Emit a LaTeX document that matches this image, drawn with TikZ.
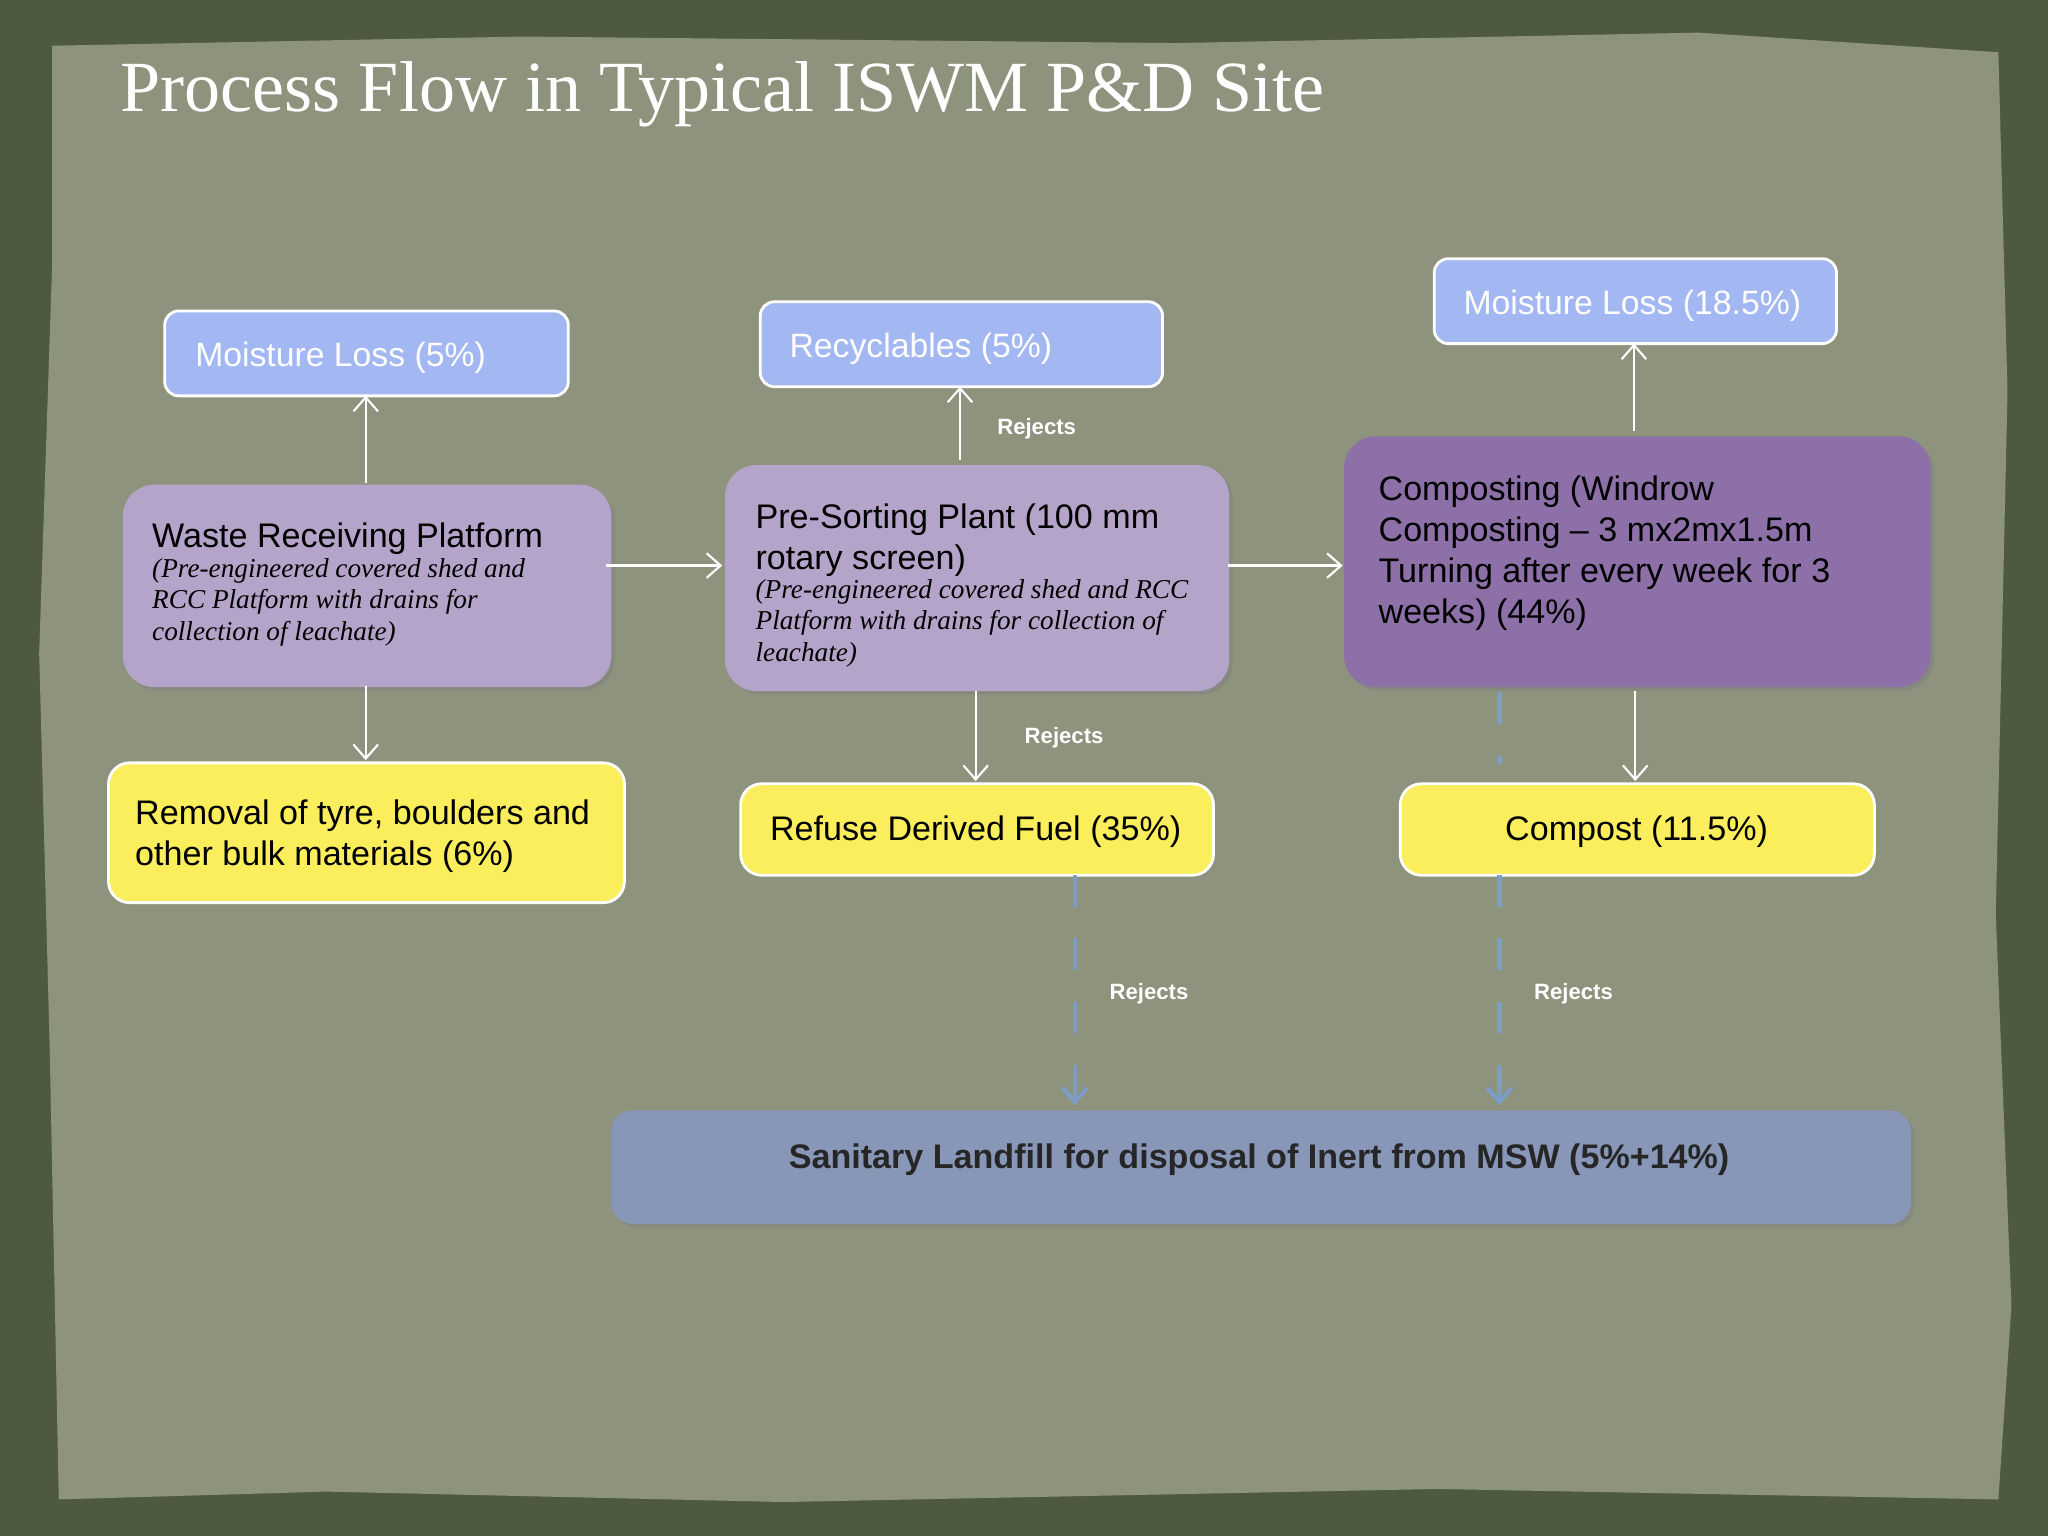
\documentclass[tikz,border=0pt]{standalone}
\usepackage{fontspec}
\setmainfont{Liberation Sans}
\newfontfamily\serifit{Liberation Serif}
\usetikzlibrary{arrows.meta,shadows}
\definecolor{bgdark}{HTML}{4E5A3F}
\definecolor{paper}{HTML}{8E937D}
\definecolor{lblue}{HTML}{A3B7F2}
\definecolor{lav}{HTML}{B5A4C9}
\definecolor{purp}{HTML}{8D70A8}
\definecolor{yel}{HTML}{FBEE5C}
\definecolor{lgray}{HTML}{8896B8}
\definecolor{dash}{HTML}{7E9CC8}
\begin{document}
\begin{tikzpicture}[x=0.01306cm,y=-0.01306cm,
 box/.style={draw=white,line width=0.8pt,rounded corners=4pt,inner sep=0pt,anchor=north west},
 blu/.style={box,fill=lblue},
 proc/.style={box,draw=none,rounded corners=9pt,drop shadow={opacity=0.5,shadow xshift=1pt,shadow yshift=-1pt}},
 ybox/.style={box,fill=yel,rounded corners=6pt},
 txt/.style={anchor=north west,align=left,inner sep=0pt,font=\fontsize{9.7}{11.6}\selectfont},
 itx/.style={anchor=north west,align=left,inner sep=0pt,font=\serifit\itshape\fontsize{7.75}{9}\selectfont},
 wtx/.style={text=white,anchor=west,font=\fontsize{9.6}{11}\selectfont},
 arr/.style={draw=white,line width=0.6pt,-{Straight Barb[length=4pt,width=7pt]}},
 darr/.style={draw=dash,line width=1.2pt,dash pattern=on 9pt off 9pt,-{Straight Barb[length=4pt,width=7pt]}},
 lab/.style={text=white,font=\bfseries\fontsize{6.3}{7}\selectfont,anchor=west,inner sep=0pt}]
\useasboundingbox (0,0) rectangle (1568,1176);
\fill[bgdark] (0,0) rectangle (1568,1176);
\fill[paper] (40,35) -- (400,28) -- (900,33) -- (1300,25) -- (1530,40) -- (1537,300) -- (1528,700) -- (1540,1000) -- (1530,1148) -- (1100,1140) -- (600,1150) -- (250,1142) -- (45,1148) -- (38,800) -- (30,500) -- (40,200) -- cycle;
\node[anchor=west,text=white,font=\serifit\fontsize{20.5}{22}\selectfont,inner sep=0pt] (title) at (92,72) {Process Flow in Typical ISWM P\&D Site};

\node[blu,minimum width=309*0.01306cm,minimum height=65*0.01306cm] (ml1) at (125,237) {};
\node[wtx] (ml1t) at (140,274) {Moisture Loss (5\%)};
\node[blu,minimum width=308*0.01306cm,minimum height=65*0.01306cm] (rec) at (581,230) {};
\node[wtx] (rect) at (595,267) {Recyclables (5\%)};
\node[blu,minimum width=308*0.01306cm,minimum height=65*0.01306cm] (ml2) at (1097,197) {};
\node[wtx] (ml2t) at (1111,234) {Moisture Loss (18.5\%)};

\node[proc,fill=lav,minimum width=374*0.01306cm,minimum height=155*0.01306cm] (wrp) at (93,370) {};
\node[txt] (wrpt) at (116,400) {Waste Receiving Platform};
\node[itx] (wrpi) at (116,427) {(Pre-engineered covered shed and\\ RCC Platform with drains for\\ collection of leachate)};
\node[proc,fill=lav,minimum width=386*0.01306cm,minimum height=173*0.01306cm] (psp) at (554,355) {};
\node[txt] (pspt) at (578,385) {Pre-Sorting Plant (100 mm\\ rotary screen)};
\node[itx] (pspi) at (578,443) {(Pre-engineered covered shed and RCC\\ Platform with drains for collection of\\ leachate)};
\node[proc,fill=purp,minimum width=449*0.01306cm,minimum height=192*0.01306cm] (cmp) at (1028,333) {};
\node[txt] (cmpt) at (1055,364) {Composting (Windrow\\ Composting -- 3 mx2mx1.5m\\ Turning after every week for 3\\ weeks) (44\%)};

\node[ybox,minimum width=395*0.01306cm,minimum height=107*0.01306cm] (rem) at (82,583) {};
\node[txt] (remt) at (103,612) {Removal of tyre, boulders and\\ other bulk materials (6\%)};
\node[ybox,minimum width=362*0.01306cm,minimum height=70*0.01306cm] (rdf) at (566,599) {};
\node[font=\fontsize{9.7}{11}\selectfont] (rdft) at (747,637) {Refuse Derived Fuel (35\%)};
\node[ybox,minimum width=363*0.01306cm,minimum height=70*0.01306cm] (cpt) at (1071,599) {};
\node[font=\fontsize{9.7}{11}\selectfont] (cptt) at (1253,637) {Compost (11.5\%)};

\node[proc,fill=lgray,rounded corners=6pt,minimum width=995*0.01306cm,minimum height=87*0.01306cm] (lf) at (467,849) {};
\node[font=\bfseries\fontsize{9.7}{11}\selectfont,text=black!85] (lft) at (964,888) {Sanitary Landfill for disposal of Inert from MSW (5\%+14\%)};

\draw[arr] (280,370) -- (280,303);
\draw[arr] (280,525) -- (280,582);
\draw[arr] (464,433) -- (553,433);
\draw[arr] (940,433) -- (1028,433);
\draw[arr] (735,352) -- (735,296);
\draw[arr] (747,529) -- (747,598);
\draw[arr] (1251,330) -- (1251,263);
\draw[arr] (1252,529) -- (1252,598);
\draw[draw=dash,line width=1.2pt,dash pattern=on 9pt off 9pt] (1148,530) -- (1148,585);
\draw[darr] (823,670) -- (823,846);
\draw[darr] (1148,670) -- (1148,846);
\node[lab] (r1) at (763,328) {Rejects};
\node[lab] (r2) at (784,565) {Rejects};
\node[lab] (r3) at (849,761) {Rejects};
\node[lab] (r4) at (1174,761) {Rejects};
\end{tikzpicture}
\end{document}
